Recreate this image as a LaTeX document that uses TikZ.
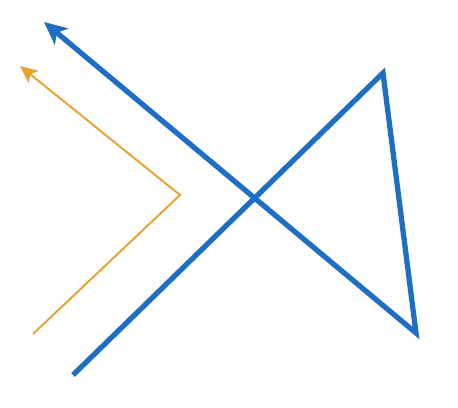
\documentclass[tikz,border=0pt]{standalone}
\usepackage{tikz}
\usetikzlibrary{arrows,arrows.meta}

\definecolor{linhaazul}{RGB}{30,110,195}
\definecolor{linhalaranja}{RGB}{232,162,48}

\begin{document}
\begin{tikzpicture}[x=0.02cm,y=-0.02cm]
        % \draw[help lines,xstep=50,ystep=50] (0,0) grid (458,408);
        \useasboundingbox (0,0) rectangle (458,408);

        \coordinate (azulini) at (73,375);
        \coordinate (azulsup) at (383,73);
        \coordinate (azulinf) at (416,333);
        \coordinate (azulfim) at (44,22);

        \coordinate (laraini) at (33,334);
        \coordinate (larameio) at (180,195);
        \coordinate (larafim) at (20,66);

        % orange path
        \draw[-{Stealth[length=10pt,width=9pt,inset=2.5pt]}, linhalaranja, line width=1.1pt, line join=miter]
          (laraini) -- (larameio) -- (larafim);

        % blue path
        \draw[-{Stealth[length=13pt,width=12pt,inset=3.5pt]}, linhaazul, line width=3pt, line join=miter]
          (azulini) -- (azulsup) -- (azulinf) -- (azulfim);

      \end{tikzpicture}
\end{document}
